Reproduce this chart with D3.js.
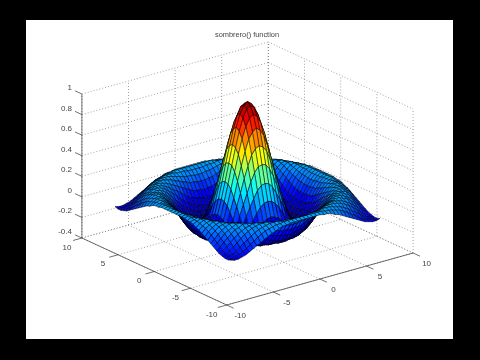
<!DOCTYPE html>
<html>
<head>
<meta charset="utf-8">
<script src="https://cdn.jsdelivr.net/npm/d3@7"></script>
<style>
  html, body { margin: 0; background: #000; }
  svg { display: block; }
  text { font-family: "Liberation Sans", Arial, sans-serif; font-size: 8px; fill: #444; }
</style>
</head>
<body>
<svg id="chart" width="480" height="360"></svg>
<script>
// tick values of the three axes
var xTicks = [-10, -5, 0, 5, 10];
var yTicks = [-10, -5, 0, 5, 10];
var zTicks = [-0.4, -0.2, 0, 0.2, 0.4, 0.6, 0.8, 1];
var zTickLabels = ['-0.4', '-0.2', '0', '0.2', '0.4', '0.6', '0.8', '1'];

// grid positions of the surface, one side of the centre
var gridSteps = [0, 0.4, 0.8, 1.2, 1.6, 2, 2.4, 2.8, 3.2, 3.6, 4, 4.4, 4.8, 5.2, 5.6, 6, 6.4, 6.8, 7.2, 7.6, 8];

// surface heights for one quarter, rows and columns follow gridSteps.
// the hat is symmetric so the other three quarters are mirrored from this
var zQuarter = [
  [1, .97, .90, .78, .62, .45, .28, .12, -.02, -.12, -.19, -.22, -.21, -.17, -.11, -.05, .02, .07, .11, .13, .12],
  [.97, .95, .87, .75, .60, .44, .27, .11, -.03, -.13, -.19, -.22, -.21, -.17, -.11, -.04, .02, .07, .11, .13, .12],
  [.90, .87, .80, .69, .55, .39, .23, .08, -.05, -.14, -.20, -.22, -.20, -.16, -.10, -.04, .03, .08, .11, .13, .12],
  [.78, .75, .69, .58, .45, .31, .16, .03, -.08, -.16, -.21, -.22, -.20, -.15, -.09, -.03, .03, .08, .12, .13, .12],
  [.62, .60, .55, .45, .34, .21, .09, -.03, -.12, -.18, -.21, -.21, -.19, -.14, -.08, -.01, .05, .09, .12, .13, .12],
  [.45, .44, .39, .31, .21, .11, .01, -.09, -.16, -.20, -.22, -.21, -.17, -.12, -.06, .01, .06, .10, .12, .13, .11],
  [.28, .27, .23, .16, .09, .01, -.07, -.14, -.19, -.21, -.21, -.19, -.15, -.09, -.03, .03, .08, .11, .13, .12, .11],
  [.12, .11, .08, .03, -.03, -.09, -.14, -.18, -.21, -.22, -.20, -.17, -.12, -.06, .00, .05, .09, .12, .13, .12, .10],
  [-.02, -.03, -.05, -.08, -.12, -.16, -.19, -.21, -.22, -.21, -.18, -.14, -.09, -.03, .03, .07, .11, .13, .13, .11, .08],
  [-.12, -.13, -.14, -.16, -.18, -.20, -.21, -.22, -.21, -.18, -.15, -.10, -.05, .01, .05, .09, .12, .13, .12, .10, .07],
  [-.19, -.19, -.20, -.21, -.21, -.22, -.21, -.20, -.18, -.15, -.10, -.06, -.01, .04, .08, .11, .13, .13, .11, .09, .05],
  [-.22, -.22, -.22, -.22, -.21, -.21, -.19, -.17, -.14, -.10, -.06, -.01, .03, .07, .10, .12, .13, .12, .10, .07, .03],
  [-.21, -.21, -.20, -.20, -.19, -.17, -.15, -.12, -.09, -.05, -.01, .03, .07, .10, .12, .13, .12, .11, .08, .05, .01],
  [-.17, -.17, -.16, -.15, -.14, -.12, -.09, -.06, -.03, .01, .04, .07, .10, .12, .13, .13, .11, .09, .06, .02, -.01],
  [-.11, -.11, -.10, -.09, -.08, -.06, -.03, .00, .03, .05, .08, .10, .12, .13, .13, .11, .09, .07, .03, .00, -.03],
  [-.05, -.04, -.04, -.03, -.01, .01, .03, .05, .07, .09, .11, .12, .13, .13, .11, .10, .07, .04, .01, -.03, -.05],
  [.02, .02, .03, .03, .05, .06, .08, .09, .11, .12, .13, .13, .12, .11, .09, .07, .04, .01, -.02, -.05, -.07],
  [.07, .07, .08, .08, .09, .10, .11, .12, .13, .13, .13, .12, .11, .09, .07, .04, .01, -.02, -.05, -.07, -.08],
  [.11, .11, .11, .12, .12, .12, .13, .13, .13, .12, .11, .10, .08, .06, .03, .01, -.02, -.05, -.07, -.08, -.09],
  [.13, .13, .13, .13, .13, .13, .12, .12, .11, .10, .09, .07, .05, .02, .00, -.03, -.05, -.07, -.08, -.09, -.09],
  [.12, .12, .12, .12, .12, .11, .11, .10, .08, .07, .05, .03, .01, -.01, -.03, -.05, -.07, -.08, -.09, -.09, -.08]
];

var titleText = 'sombrero() function';

var svg = d3.select('#chart');

var defs = svg.append('defs');
defs.append('filter').attr('id', 'soft')
    .attr('x', 0).attr('y', 0).attr('width', 1).attr('height', 1)
    .append('feGaussianBlur').attr('stdDeviation', 0.45);

// white figure on the black page
svg.append('rect').attr('width', 480).attr('height', 360).attr('fill', '#000');
var fig = svg.append('g').attr('filter', 'url(#soft)');
fig.append('rect').attr('x', 26).attr('y', 20).attr('width', 427).attr('height', 319).attr('fill', '#fff');

// orthographic projection: each data axis adds its own screen offset
var xToPx = d3.scaleLinear().domain([-10, 10]).range([-93.2, 93.2]);
var xToPy = d3.scaleLinear().domain([-10, 10]).range([26, -26]);
var yToPx = d3.scaleLinear().domain([-10, 10]).range([72.4, -72.4]);
var yToPy = d3.scaleLinear().domain([-10, 10]).range([33.5, -33.5]);
var zToPy = d3.scaleLinear().domain([-0.4, 1]).range([0, -144]);

function project(x, y, z){
    return [247.5 + xToPx(x) + yToPx(y), 245.5 + xToPy(x) + yToPy(y) + zToPy(z)];
}

// walls and floor grid
var gridLines = [];
xTicks.forEach(function(x){
    gridLines.push([[x, -10, -0.4], [x, 10, -0.4]]);
    gridLines.push([[x, 10, -0.4], [x, 10, 1]]);
});
yTicks.forEach(function(y){
    gridLines.push([[-10, y, -0.4], [10, y, -0.4]]);
    gridLines.push([[10, y, -0.4], [10, y, 1]]);
});
zTicks.forEach(function(z){
    gridLines.push([[-10, 10, z], [10, 10, z]]);
    gridLines.push([[10, 10, z], [10, -10, z]]);
});

fig.append('g').selectAll('line')
    .data(gridLines)
    .join('line')
    .attr('x1', d => project(d[0][0], d[0][1], d[0][2])[0])
    .attr('y1', d => project(d[0][0], d[0][1], d[0][2])[1])
    .attr('x2', d => project(d[1][0], d[1][1], d[1][2])[0])
    .attr('y2', d => project(d[1][0], d[1][1], d[1][2])[1])
    .attr('stroke', '#666')
    .attr('stroke-width', 0.6)
    .attr('stroke-dasharray', '1 2');

// axis lines
var axisLines = [
    [[-10, 10, -0.4], [-10, 10, 1]],
    [[-10, 10, -0.4], [-10, -10, -0.4]],
    [[-10, -10, -0.4], [10, -10, -0.4]]
];
// ticks point away from the box
zTicks.forEach(z => axisLines.push([[-10, 10, z], [-10, 10.95, z]]));
yTicks.forEach(y => axisLines.push([[-10, y, -0.4], [-10.95, y, -0.4]]));
xTicks.forEach(x => axisLines.push([[x, -10, -0.4], [x, -10.95, -0.4]]));

fig.append('g').selectAll('line')
    .data(axisLines)
    .join('line')
    .attr('x1', d => project(d[0][0], d[0][1], d[0][2])[0])
    .attr('y1', d => project(d[0][0], d[0][1], d[0][2])[1])
    .attr('x2', d => project(d[1][0], d[1][1], d[1][2])[0])
    .attr('y2', d => project(d[1][0], d[1][1], d[1][2])[1])
    .attr('stroke', '#333')
    .attr('stroke-width', 0.7);

// tick labels
fig.append('g').selectAll('text')
    .data(zTicks)
    .join('text')
    .attr('x', 72)
    .attr('y', d => project(-10, 10, d)[1] - 4)
    .attr('text-anchor', 'end')
    .text((d, i) => zTickLabels[i]);

fig.append('g').selectAll('text')
    .data(yTicks)
    .join('text')
    .attr('x', d => project(-10, d, -0.4)[0] - 15)
    .attr('y', d => project(-10, d, -0.4)[1] + 11.5)
    .attr('text-anchor', 'middle')
    .text(d => d);

fig.append('g').selectAll('text')
    .data(xTicks)
    .join('text')
    .attr('x', d => project(d, -10, -0.4)[0] + 13.5)
    .attr('y', d => project(d, -10, -0.4)[1] + 13)
    .attr('text-anchor', 'middle')
    .text(d => d);

fig.append('text')
    .attr('x', 247)
    .attr('y', 36.5)
    .attr('text-anchor', 'middle')
    .style('font-size', '7.4px')
    .text(titleText);

// build the whole grid from the quarter
var lastStep = gridSteps.length - 1;
var signedSteps = gridSteps.slice(1).reverse().map(d => -d).concat(gridSteps);
function zAt(i, j){
    return zQuarter[Math.abs(i - lastStep)][Math.abs(j - lastStep)];
}

// jet colormap, 64 flat levels like the original
var jet = d3.scaleLinear()
    .domain([0, 0.125, 0.375, 0.625, 0.875, 1])
    .range(['#00008f', '#0000ff', '#00ffff', '#ffff00', '#ff0000', '#800000']);
var zColor = d3.scaleQuantize()
    .domain([-0.22, 1])
    .range(d3.range(64).map(d => jet((d + 0.5) / 64)));

var faces = [];
for (var i = signedSteps.length - 2; i >= 0; i--){
    for (var j = signedSteps.length - 2; j >= 0; j--){
        faces.push({i: i, j: j});
    }
}

function faceCorners(d){
    return [[d.i, d.j], [d.i + 1, d.j], [d.i + 1, d.j + 1], [d.i, d.j + 1]];
}

function facePoints(d){
    return faceCorners(d)
        .map(c => project(signedSteps[c[0]], signedSteps[c[1]], zAt(c[0], c[1])).join(','))
        .join(' ');
}

// back to front so nearer faces cover the far ones.
// each face takes the colour of its mean height
fig.append('g').selectAll('polygon')
    .data(faces)
    .join('polygon')
    .attr('points', facePoints)
    .attr('fill', d => zColor(d3.mean(faceCorners(d), c => zAt(c[0], c[1]))))
    .attr('stroke', '#000')
    .attr('stroke-width', 0.5)
    .attr('stroke-linejoin', 'round');
</script>
</body>
</html>
